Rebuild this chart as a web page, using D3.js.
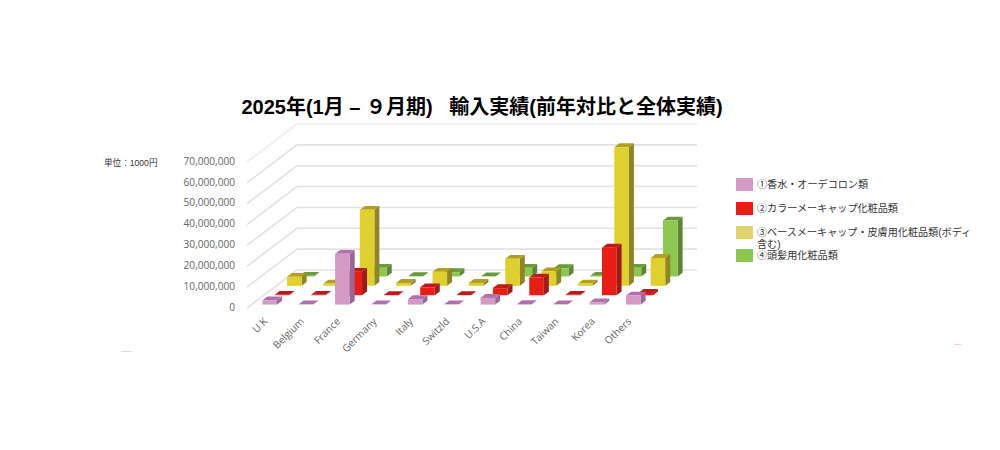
<!DOCTYPE html>
<html>
<head>
<meta charset="utf-8">
<script src="https://cdn.jsdelivr.net/npm/d3@7"></script>
<style>
  html, body { margin: 0; background: #fff; }
  svg { display: block; }
  text { font-family: "Liberation Sans", "Noto Sans CJK JP", sans-serif; }
  .tick text { font-family: "Open Sans", "Noto Sans", sans-serif; }
</style>
</head>
<body>
<div id="chart"></div>
<script>
const categories = ['U K', 'Belgium', 'France', 'Germany', 'Italy', 'Switzld', 'U.S.A', 'China', 'Taiwan', 'Korea', 'Others'];
const seriesNames = ['①香水・オーデコロン類', '②カラーメーキャップ化粧品類', '③ベースメーキャップ・皮膚用化粧品類(ボディ含む)', '④頭髪用化粧品類'];

const perfume = [2100000, 100000, 24400000, 100000, 2600000, 100000, 3200000, 200000, 100000, 1100000, 4300000];
const colorMakeup = [200000, 200000, 11200000, 100000, 3800000, 100000, 3400000, 8500000, 200000, 22800000, 1100000];
const baseMakeup = [4300000, 1100000, 36500000, 1400000, 6700000, 1400000, 13000000, 7000000, 1100000, 66500000, 13400000];
const hair = [300000, 200000, 4200000, 200000, 2100000, 100000, 4200000, 4000000, 300000, 4200000, 26800000];

const yTicks = [0, 10000000, 20000000, 30000000, 40000000, 50000000, 60000000, 70000000];

const colors = [
  { front: '#d29ac5', top: '#b26fae', side: '#9c659a', legend: '#d29ac5' },
  { front: '#e81e14', top: '#bd1a1c', side: '#9c1c1e', legend: '#e81e14' },
  { front: '#dfd030', top: '#b0a022', side: '#908428', legend: '#dfd070' },
  { front: '#8cc850', top: '#6a9a3a', side: '#5e8438', legend: '#8cc850' },
];

const width = 1000;
const height = 450;

const svg = d3.select('#chart').append('svg')
  .attr('width', width)
  .attr('height', height);

const x = d3.scaleBand().domain(categories).range([247, 647]);
const y = d3.scaleLinear().domain([0, 70000000]).range([308, 162]);
// depth 0 is the front edge of the floor, depth 1 the back wall
const depthX = d3.scaleLinear().domain([0, 1]).range([0, 50]);
const depthY = d3.scaleLinear().domain([0, 1]).range([0, -38]);
// front of each series row on the floor
const row = d3.scalePoint().domain(d3.range(4)).range([0.09, 0.83]);

const barWidth = 14.6;
const barDepth = 0.1;

const pt = (px, v, depth) => [px + depthX(depth), y(v) + depthY(depth)];
const poly = (points) => points.map((p) => p.join(',')).join(' ');

// walls
const grid = svg.append('g');
yTicks.forEach((t) => {
  grid.append('polyline')
    .attr('points', poly([pt(x.range()[0], t, 0), pt(x.range()[0], t, 1), pt(x.range()[1], t, 1)]))
    .attr('fill', 'none')
    .attr('stroke', t === 70000000 ? '#eeeeee' : '#e2e2e2')
    .attr('stroke-width', 1.6);
});

// bars, back row first
const seriesValues = [perfume, colorMakeup, baseMakeup, hair];
d3.range(3, -1, -1).forEach((s) => {
  const g = svg.append('g');
  const d0 = row(s);
  const d1 = d0 + barDepth;
  const c = colors[s];
  categories.forEach((cat, i) => {
    const v = seriesValues[s][i];
    const x0 = x(cat) + (x.bandwidth() - barWidth) / 2;
    const x1 = x0 + barWidth;
    const bar = g.append('g');
    bar.append('polygon').attr('fill', c.side)
      .attr('points', poly([pt(x1, 0, d0), pt(x1, 0, d1), pt(x1, v, d1), pt(x1, v, d0)]));
    bar.append('polygon').attr('fill', c.top)
      .attr('points', poly([pt(x0, v, d0), pt(x1, v, d0), pt(x1, v, d1), pt(x0, v, d1)]));
    bar.append('polygon').attr('fill', c.front)
      .attr('points', poly([pt(x0, 0, d0), pt(x1, 0, d0), pt(x1, v, d0), pt(x0, v, d0)]));
  });
});

// axes
const yAxis = svg.append('g')
  .attr('transform', 'translate(242,-1)')
  .call(d3.axisLeft(y).tickValues(yTicks).tickSize(0).tickPadding(7).tickFormat(d3.format(',')));
yAxis.select('.domain').remove();
yAxis.selectAll('text').style('font-size', '10.1px').style('fill', '#666');

const xAxis = svg.append('g')
  .attr('transform', 'translate(-2,317)')
  .call(d3.axisBottom(x).tickSize(0).tickPadding(0));
xAxis.select('.domain').remove();
xAxis.selectAll('text')
  .style('font-size', '10.2px')
  .style('fill', '#666')
  .attr('text-anchor', 'end')
  .attr('dy', '0.7em')
  .attr('transform', 'rotate(-45)');

svg.append('text')
  .attr('x', 482).attr('y', 114)
  .attr('text-anchor', 'middle')
  .style('font-size', '20px')
  .style('font-weight', 700)
  .style('white-space', 'pre')
  .text('2025年(1月 – ９月期)   輸入実績(前年対比と全体実績)');

svg.append('text')
  .attr('x', 104).attr('y', 166)
  .style('font-size', '8.6px')
  .style('fill', '#333')
  .text('単位：1000円');

// legend
const legendSwatchY = [178, 202, 226, 249];
const legendLines = [[seriesNames[0]], [seriesNames[1]], ['③ベースメーキャップ・皮膚用化粧品類(ボディ', '含む)'], [seriesNames[3]]];
const legend = svg.append('g');
legendSwatchY.forEach((ly, i) => {
  legend.append('rect')
    .attr('x', 736).attr('y', ly)
    .attr('width', 17).attr('height', 13)
    .attr('fill', colors[i].legend);
  legendLines[i].forEach((line, j) => {
    legend.append('text')
      .attr('x', 757).attr('y', ly + 9.5 + j * 12)
      .style('font-size', '10.1px')
      .style('fill', '#333')
      .text(line);
  });
});

// faint scan marks at the edges of the picture
svg.append('line').attr('x1', 121).attr('x2', 132).attr('y1', 351.5).attr('y2', 351.5)
  .attr('stroke', '#dddddd');
svg.append('line').attr('x1', 954).attr('x2', 961).attr('y1', 344.5).attr('y2', 344.5)
  .attr('stroke', '#f6d0dc');
</script>
</body>
</html>
